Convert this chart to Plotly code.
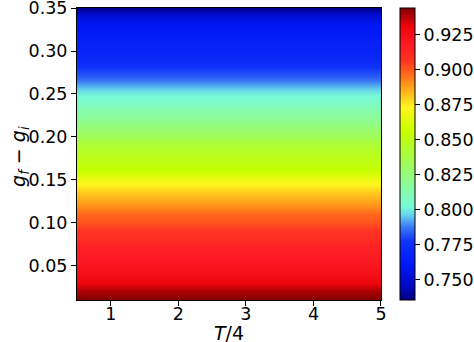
import plotly.graph_objects as go

# Data
x_vals = [0.5, 1.0, 1.5, 2.0, 2.5, 3.0, 3.5, 4.0, 4.5, 5.0]
y_vals = [0.01, 0.02, 0.03, 0.04, 0.05, 0.06, 0.07, 0.08, 0.09, 0.10,
          0.11, 0.12, 0.13, 0.14, 0.15, 0.16, 0.17, 0.18, 0.19, 0.20,
          0.21, 0.22, 0.23, 0.24, 0.25, 0.26, 0.27, 0.28, 0.29, 0.30,
          0.31, 0.32, 0.33, 0.34, 0.35]
row_values = [0.944, 0.939, 0.931, 0.925, 0.921, 0.918, 0.915, 0.910, 0.906, 0.901,
              0.897, 0.890, 0.884, 0.877, 0.869, 0.857, 0.852, 0.848, 0.843, 0.834,
              0.827, 0.820, 0.814, 0.807, 0.801, 0.792, 0.784, 0.778, 0.772, 0.768,
              0.766, 0.763, 0.760, 0.752, 0.737]
cbar_ticks = [0.750, 0.775, 0.800, 0.825, 0.850, 0.875, 0.900, 0.925]
x_ticks = [1, 2, 3, 4, 5]
y_ticks = [0.05, 0.10, 0.15, 0.20, 0.25, 0.30, 0.35]

z = [[v for _ in x_vals] for v in row_values]

# jet-like colour scale as it appears in the reference
scale = [
    [0.00, "rgb(0,0,130)"],
    [0.05, "rgb(0,10,200)"],
    [0.12, "rgb(0,25,245)"],
    [0.20, "rgb(15,50,250)"],
    [0.25, "rgb(60,120,245)"],
    [0.29, "rgb(100,210,235)"],
    [0.32, "rgb(120,250,215)"],
    [0.40, "rgb(140,252,150)"],
    [0.50, "rgb(170,252,60)"],
    [0.58, "rgb(200,255,0)"],
    [0.66, "rgb(255,245,30)"],
    [0.71, "rgb(255,185,30)"],
    [0.76, "rgb(255,120,25)"],
    [0.82, "rgb(255,50,35)"],
    [0.88, "rgb(252,25,35)"],
    [0.94, "rgb(235,5,10)"],
    [1.00, "rgb(128,0,0)"],
]

font = dict(family="DejaVu Sans", size=17.5, color="black")
title_font = dict(family="DejaVu Sans", size=19, color="black")

fig = go.Figure(go.Heatmap(
    x=x_vals, y=y_vals, z=z, colorscale=scale, zmin=0.7357, zmax=0.944,
    zsmooth="best",
    colorbar=dict(
        x=1.0625, xanchor="left", xpad=0, ypad=0, y=0.5, yanchor="middle",
        len=1, lenmode="fraction", thickness=15, thicknessmode="pixels",
        outlinewidth=1, outlinecolor="black",
        tickvals=cbar_ticks, tickformat=".3f", ticks="outside", ticklen=5,
        tickcolor="black", tickfont=font,
    ),
))

fig.update_layout(
    width=474, height=342,
    margin=dict(l=77, r=93, t=8, b=42, autoexpand=False),
    paper_bgcolor="white", plot_bgcolor="white",
    font=font,
    xaxis=dict(range=[0.5, 5.0001], tickvals=x_ticks, ticks="outside", ticklen=5,
               tickcolor="black", showline=True, linecolor="black", mirror=True,
               showgrid=False, zeroline=False, tickfont=font, automargin=False,
               ticklabelstandoff=-7, ticklabeloverflow="allow"),
    yaxis=dict(range=[0.01, 0.3501], tickvals=y_ticks, tickformat=".2f", ticks="outside",
               ticklen=5, tickcolor="black", showline=True, linecolor="black",
               mirror=True, showgrid=False, zeroline=False, tickfont=font, automargin=False,
               ticklabeloverflow="allow"),
    annotations=[
        dict(text="<i>T</i>/4", xref="paper", yref="paper", x=0.5, y=-0.113,
             xanchor="center", yanchor="middle", showarrow=False, font=title_font),
        dict(text="<i>g</i><sub><i>f</i></sub> − <i>g</i><sub><i>i</i></sub>",
             xref="paper", yref="paper", x=-0.1875, y=0.49, textangle=-90,
             xanchor="center", yanchor="middle", showarrow=False, font=title_font),
    ],
)

fig.write_html("out.html")
